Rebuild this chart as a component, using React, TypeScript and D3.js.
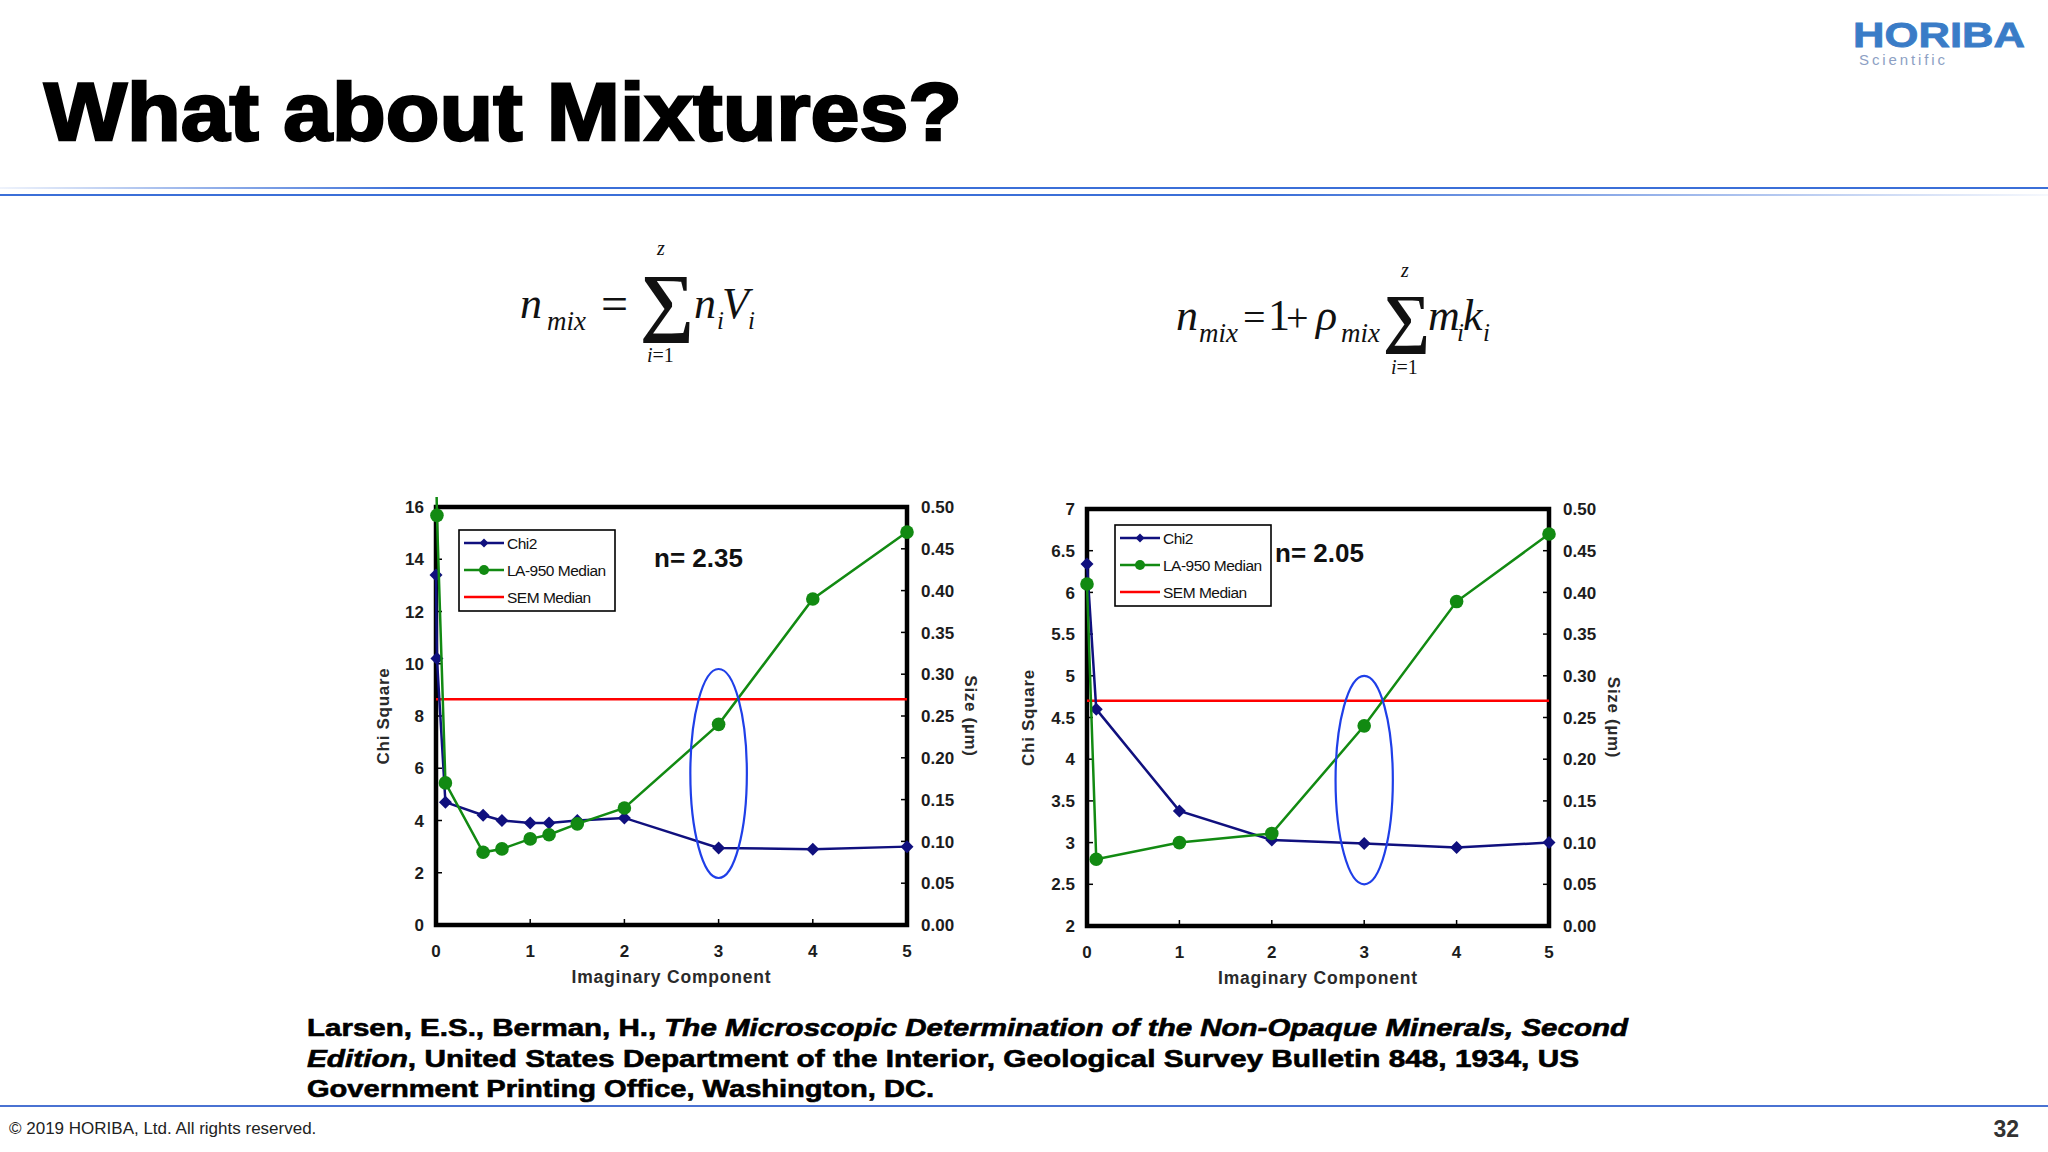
import * as d3 from "d3";

const W = 2048;
const H = 1152;

// n = 2.35 chart
const chiX235 = [0, 0.01, 0.1, 0.5, 0.7, 1, 1.2, 1.5, 2, 3, 4, 5];
const chi235 = [13.4, 10.2, 4.7, 4.2, 4.0, 3.9, 3.9, 4.0, 4.1, 2.95, 2.9, 3.0];
const laX235 = [0, 0.01, 0.1, 0.5, 0.7, 1, 1.2, 1.5, 2, 3, 4, 5];
const la235 = [0.56, 0.49, 0.17, 0.087, 0.091, 0.103, 0.108, 0.121, 0.14, 0.24, 0.39, 0.47];
const chiTicks235 = [0, 2, 4, 6, 8, 10, 12, 14, 16];

// n = 2.05 chart
const chiX205 = [0, 0.1, 1, 2, 3, 4, 5];
const chi205 = [6.34, 4.6, 3.38, 3.03, 2.99, 2.94, 3.0];
const laX205 = [0, 0.1, 1, 2, 3, 4, 5];
const la205 = [0.41, 0.08, 0.1, 0.111, 0.24, 0.389, 0.47];
const chiTicks205 = [2, 2.5, 3, 3.5, 4, 4.5, 5, 5.5, 6, 6.5, 7];

const xTicks = [0, 1, 2, 3, 4, 5];
const sizeTicks = [0, 0.05, 0.1, 0.15, 0.2, 0.25, 0.3, 0.35, 0.4, 0.45, 0.5];
const semMedian = 0.27;
const legendLabels = ["Chi2", "LA-950 Median", "SEM Median"];

const NAVY = "#10107e";
const GREEN = "#128a12";
const RED = "#ff0000";
const BLUE = "#1f3fe8";
const SANS = "'Liberation Sans', Arial, sans-serif";
const SERIF = "'Liberation Serif', 'Times New Roman', serif";

interface ChartProps {
  id: string;
  left: number;
  top: number;
  width: number;
  height: number;
  chiDomain: [number, number];
  chiTicks: number[];
  chiX: number[];
  chi: number[];
  laX: number[];
  la: number[];
  nLabel: string;
  nDx: number;
  nDy: number;
  legDx: number;
  legDy: number;
  ellipseX: [number, number];
  ellipseChi: [number, number];
  yTitleGap: number;
  y2TitleGap: number;
}

function Chart(p: ChartProps) {
  const x = d3.scaleLinear().domain([0, 5]).range([p.left, p.left + p.width]);
  const yChi = d3.scaleLinear().domain(p.chiDomain).range([p.top + p.height, p.top]);
  const ySize = d3.scaleLinear().domain([0, 0.5]).range([p.top + p.height, p.top]);
  const bottom = p.top + p.height;
  const right = p.left + p.width;

  const chiPts = p.chiX.map((v, i) => [v, p.chi[i]] as [number, number]);
  const laPts = p.laX.map((v, i) => [v, p.la[i]] as [number, number]);
  const chiLine = d3.line<[number, number]>().x((d) => x(d[0])).y((d) => yChi(d[1]));
  const laLine = d3.line<[number, number]>().x((d) => x(d[0])).y((d) => ySize(d[1]));

  const diamond = (cx: number, cy: number, r: number) =>
    `M${cx},${cy - r}L${cx + r},${cy}L${cx},${cy + r}L${cx - r},${cy}Z`;

  const lx = p.left + p.legDx;
  const ly = p.top + p.legDy;
  const legRows = [ly + 13, ly + 40, ly + 67];

  const ex0 = x(p.ellipseX[0]);
  const ex1 = x(p.ellipseX[1]);
  const ey0 = yChi(p.ellipseChi[1]);
  const ey1 = yChi(p.ellipseChi[0]);

  return (
    <g>
      <defs>
        <clipPath id={`clip-${p.id}`}>
          <rect x={p.left - 12} y={p.top - 10} width={p.width + 24} height={p.height + 20} />
        </clipPath>
      </defs>

      {/* frame */}
      <rect x={p.left} y={p.top} width={p.width} height={p.height} fill="none" stroke="#000" strokeWidth={4.5} />

      {/* ticks (inside) */}
      {p.chiTicks.map((t) => (
        <g key={`l${t}`}>
          <line x1={p.left} x2={p.left + 6} y1={yChi(t)} y2={yChi(t)} stroke="#000" strokeWidth={1.5} />
          <text x={p.left - 12} y={yChi(t)} dy="0.36em" textAnchor="end" fontFamily={SANS} fontWeight="bold" fontSize={17} fill="#1c1c1c">
            {String(t)}
          </text>
        </g>
      ))}
      {sizeTicks.map((t) => (
        <g key={`r${t}`}>
          <line x1={right - 6} x2={right} y1={ySize(t)} y2={ySize(t)} stroke="#000" strokeWidth={1.5} />
          <text x={right + 14} y={ySize(t)} dy="0.36em" fontFamily={SANS} fontWeight="bold" fontSize={17} fill="#1c1c1c">
            {t.toFixed(2)}
          </text>
        </g>
      ))}
      {xTicks.map((t) => (
        <g key={`b${t}`}>
          <line x1={x(t)} x2={x(t)} y1={bottom} y2={bottom - 6} stroke="#000" strokeWidth={1.5} />
          <text x={x(t)} y={bottom + 32} textAnchor="middle" fontFamily={SANS} fontWeight="bold" fontSize={17} fill="#1c1c1c">
            {t}
          </text>
        </g>
      ))}

      {/* axis titles */}
      <text x={p.left + p.width / 2} y={bottom + 58} textAnchor="middle" fontFamily={SANS} fontWeight="bold" fontSize={17.5} fill="#2a2a2a" letterSpacing={0.8}>
        Imaginary Component
      </text>
      <text
        transform={`translate(${p.left - p.yTitleGap},${p.top + p.height / 2}) rotate(-90)`}
        textAnchor="middle"
        dominantBaseline="central"
        fontFamily={SANS}
        fontWeight="bold"
        fontSize={17}
        fill="#2a2a2a"
        letterSpacing={0.7}
      >
        Chi Square
      </text>
      <text
        transform={`translate(${right + p.y2TitleGap},${p.top + p.height / 2}) rotate(90)`}
        textAnchor="middle"
        dominantBaseline="central"
        fontFamily={SANS}
        fontWeight="bold"
        fontSize={17}
        fill="#2a2a2a"
        letterSpacing={0.7}
      >
        Size (µm)
      </text>

      {/* SEM median */}
      <line x1={p.left} x2={right} y1={ySize(semMedian)} y2={ySize(semMedian)} stroke={RED} strokeWidth={2.5} />

      {/* series */}
      <g clipPath={`url(#clip-${p.id})`}>
        <path d={chiLine(chiPts) || ""} fill="none" stroke={NAVY} strokeWidth={2.5} />
        {chiPts.map((d, i) => (
          <path key={`c${i}`} d={diamond(x(d[0]), yChi(d[1]), 6.5)} fill={NAVY} />
        ))}
        <path d={laLine(laPts) || ""} fill="none" stroke={GREEN} strokeWidth={2.5} />
        {laPts.map((d, i) => (
          <circle key={`g${i}`} cx={x(d[0])} cy={ySize(d[1])} r={6.8} fill={GREEN} />
        ))}
      </g>

      {/* highlight ellipse */}
      <ellipse
        cx={(ex0 + ex1) / 2}
        cy={(ey0 + ey1) / 2}
        rx={(ex1 - ex0) / 2}
        ry={(ey1 - ey0) / 2}
        fill="none"
        stroke={BLUE}
        strokeWidth={2.2}
      />

      {/* legend */}
      <rect x={lx} y={ly} width={156} height={81} fill="#fff" stroke="#000" strokeWidth={1.6} />
      {legendLabels.map((lab, i) => (
        <g key={lab}>
          <line x1={lx + 5} x2={lx + 45} y1={legRows[i]} y2={legRows[i]} stroke={[NAVY, GREEN, RED][i]} strokeWidth={2.5} />
          {i === 0 && <path d={diamond(lx + 25, legRows[i], 4.5)} fill={NAVY} />}
          {i === 1 && <circle cx={lx + 25} cy={legRows[i]} r={5} fill={GREEN} />}
          <text x={lx + 48} y={legRows[i]} dy="0.36em" fontFamily={SANS} fontSize={15.5} letterSpacing={-0.5} fill="#111">
            {lab}
          </text>
        </g>
      ))}

      <text x={p.left + p.nDx} y={p.top + p.nDy} fontFamily={SANS} fontWeight="bold" fontSize={26} fill="#111">
        {p.nLabel}
      </text>
    </g>
  );
}

export default function App() {
  return (
    <svg
      width={W}
      height={H}
      viewBox={`0 0 ${W} ${H}`}
      style={{ position: "absolute", left: 0, top: 0, background: "#fff" }}
    >
      <defs>
        <linearGradient id="hdrTop" x1="0" x2="1" y1="0" y2="0">
          <stop offset="0" stopColor="#3b6fd8" stopOpacity={0.08} />
          <stop offset="0.2" stopColor="#3b6fd8" stopOpacity={1} />
          <stop offset="1" stopColor="#3b6fd8" stopOpacity={1} />
        </linearGradient>
        <linearGradient id="hdrBot" x1="0" x2="1" y1="0" y2="0">
          <stop offset="0" stopColor="#3b6fd8" stopOpacity={1} />
          <stop offset="0.62" stopColor="#3b6fd8" stopOpacity={1} />
          <stop offset="1" stopColor="#3b6fd8" stopOpacity={0.05} />
        </linearGradient>
      </defs>
      <rect width={W} height={H} fill="#fff" />

      {/* logo */}
      <text x={1853} y={47} fontFamily={SANS} fontWeight="bold" fontSize={35} fill="#3a7cc7" stroke="#3a7cc7" strokeWidth={0.8} textLength={172} lengthAdjust="spacingAndGlyphs">
        HORIBA
      </text>
      <text x={1859} y={65} fontFamily={SANS} fontSize={15} fill="#8d9fc4" textLength={86} lengthAdjust="spacing">
        Scientific
      </text>

      {/* title */}
      <text x={44} y={140} fontFamily={SANS} fontWeight="bold" fontSize={81} fill="#000" stroke="#000" strokeWidth={2.5} textLength={918} lengthAdjust="spacingAndGlyphs">
        What about Mixtures?
      </text>

      <rect x={0} y={187} width={W} height={2} fill="url(#hdrTop)" />
      <rect x={0} y={194} width={W} height={2} fill="url(#hdrBot)" />

      {/* formula 1 */}
      <text fontFamily={SERIF} fontStyle="italic" fill="#111">
        <tspan x={520} y={318} fontSize={44}>n</tspan>
        <tspan x={547} y={330} fontSize={27}>mix</tspan>
        <tspan x={601} y={320} fontSize={48} fontStyle="normal">=</tspan>
        <tspan x={640} y={327} fontSize={76} fontStyle="normal" fontWeight="bold">∑</tspan>
        <tspan x={657} y={255} fontSize={20}>z</tspan>
        <tspan x={647} y={362} fontSize={20}>i</tspan>
        <tspan fontSize={20} fontStyle="normal">=1</tspan>
        <tspan x={694} y={318} fontSize={44}>n</tspan>
        <tspan x={717} y={329} fontSize={25}>i</tspan>
        <tspan x={722} y={318} fontSize={44}>V</tspan>
        <tspan x={748} y={329} fontSize={25}>i</tspan>
      </text>

      {/* formula 2 */}
      <text fontFamily={SERIF} fontStyle="italic" fill="#111">
        <tspan x={1176} y={330} fontSize={44}>n</tspan>
        <tspan x={1199} y={342} fontSize={27}>mix</tspan>
        <tspan x={1243} y={331} fontSize={40} fontStyle="normal">=</tspan>
        <tspan x={1268} y={330} fontSize={44} fontStyle="normal">1</tspan>
        <tspan x={1286} y={331} fontSize={40} fontStyle="normal">+</tspan>
        <tspan x={1316} y={330} fontSize={44}>ρ</tspan>
        <tspan x={1341} y={342} fontSize={27}>mix</tspan>
        <tspan x={1383} y={340} fontSize={66} fontStyle="normal" fontWeight="bold">∑</tspan>
        <tspan x={1401} y={277} fontSize={20}>z</tspan>
        <tspan x={1391} y={374} fontSize={20}>i</tspan>
        <tspan fontSize={20} fontStyle="normal">=1</tspan>
        <tspan x={1428} y={330} fontSize={44}>m</tspan>
        <tspan x={1457} y={341} fontSize={25}>i</tspan>
        <tspan x={1463} y={330} fontSize={44}>k</tspan>
        <tspan x={1483} y={341} fontSize={25}>i</tspan>
      </text>

      <Chart
        id="a"
        left={436}
        top={507}
        width={471}
        height={418}
        chiDomain={[0, 16]}
        chiTicks={chiTicks235}
        chiX={chiX235}
        chi={chi235}
        laX={laX235}
        la={la235}
        nLabel="n= 2.35"
        nDx={218}
        nDy={60}
        legDx={23}
        legDy={23}
        ellipseX={[2.7, 3.3]}
        ellipseChi={[1.8, 9.8]}
        yTitleGap={53}
        y2TitleGap={63}
      />
      <Chart
        id="b"
        left={1087}
        top={509}
        width={462}
        height={417}
        chiDomain={[2, 7]}
        chiTicks={chiTicks205}
        chiX={chiX205}
        chi={chi205}
        laX={laX205}
        la={la205}
        nLabel="n= 2.05"
        nDx={188}
        nDy={53}
        legDx={28}
        legDy={16}
        ellipseX={[2.69, 3.31]}
        ellipseChi={[2.5, 5.0]}
        yTitleGap={59}
        y2TitleGap={64}
      />

      {/* reference */}
      <g fontFamily={SANS} fontWeight="bold" fontSize={23} fill="#000" stroke="#000" strokeWidth={0.6}>
        <text x={307} y={1036} textLength={1321} lengthAdjust="spacingAndGlyphs">
          Larsen, E.S., Berman, H., <tspan fontStyle="italic">The Microscopic Determination of the Non-Opaque Minerals, Second</tspan>
        </text>
        <text x={307} y={1067} textLength={1272} lengthAdjust="spacingAndGlyphs">
          <tspan fontStyle="italic">Edition</tspan>, United States Department of the Interior, Geological Survey Bulletin 848, 1934, US
        </text>
        <text x={307} y={1097} textLength={627} lengthAdjust="spacingAndGlyphs">
          Government Printing Office, Washington, DC.
        </text>
      </g>

      <rect x={0} y={1105} width={W} height={2} fill="#4a72d2" />

      <text x={9} y={1134} fontFamily={SANS} fontSize={17} fill="#222">
        © 2019 HORIBA, Ltd. All rights reserved.
      </text>
      <text x={2019} y={1137} textAnchor="end" fontFamily={SANS} fontWeight="bold" fontSize={23} fill="#333">
        32
      </text>
    </svg>
  );
}
